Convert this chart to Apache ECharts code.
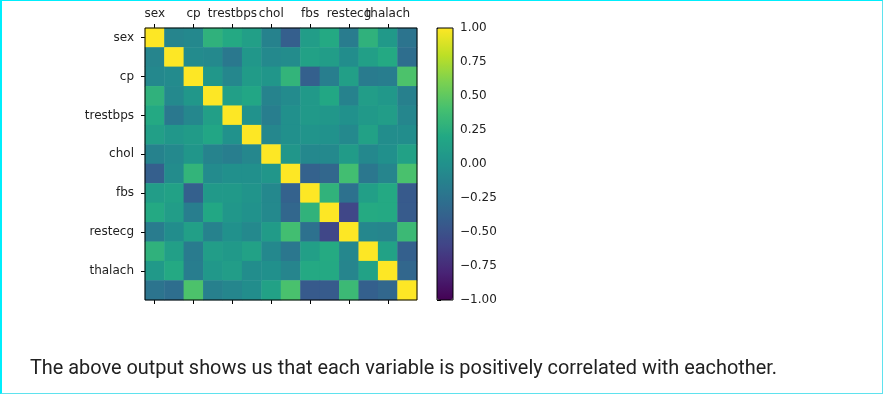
<!DOCTYPE html>
<html>
<head>
<meta charset="utf-8">
<script src="https://cdn.jsdelivr.net/npm/echarts@6/dist/echarts.min.js"></script>
<style>
  html, body { margin: 0; padding: 0; background: #fff; }
  #wrap { position: relative; width: 883px; height: 394px; box-sizing: border-box;
          border-left: 2px solid #00eefc; border-top: 1px solid #00eefc;
          border-right: 1px solid #5fe2ee; border-bottom: 1px solid #5fe2ee; overflow: hidden; }
  #chart { position: absolute; left: -2px; top: -1px; width: 883px; height: 394px; }
  #note { position: absolute; left: 28px; top: 355px; font-family: Roboto, sans-serif;
          font-size: 19.9px; color: #212121; white-space: nowrap; }
</style>
</head>
<body>
<div id="wrap">
  <div id="chart"></div>
  <div id="note">The above output shows us that each variable is positively correlated with eachother.</div>
</div>
<script>
// Variables (matrix order)
const categories = ['age','sex','cp','trestbps','chol','fbs','restecg','thalach','exang','oldpeak','slope','ca','thal','target'];
// Tick labels as shown in the figure (every other tick)
const tickLabels = ['sex','cp','trestbps','chol','fbs','restecg','thalach'];
// Colorbar ticks
const colorbarTicks = [-1.00,-0.75,-0.50,-0.25,0.00,0.25,0.50,0.75,1.00];

// Correlation matrix rows
const rowAge      = [ 1.00,-0.10,-0.07, 0.28, 0.21, 0.12,-0.12,-0.40, 0.10, 0.21,-0.17, 0.28, 0.07,-0.23];
const rowSex      = [-0.10, 1.00,-0.05,-0.06,-0.20, 0.05,-0.06,-0.04, 0.14, 0.10,-0.03, 0.12, 0.21,-0.28];
const rowCp       = [-0.07,-0.05, 1.00, 0.05,-0.08, 0.09, 0.04, 0.30,-0.39,-0.15, 0.12,-0.18,-0.16, 0.43];
const rowTrestbps = [ 0.28,-0.06, 0.05, 1.00, 0.12, 0.18,-0.11,-0.05, 0.07, 0.19,-0.12, 0.10, 0.06,-0.14];
const rowChol     = [ 0.21,-0.20,-0.08, 0.12, 1.00, 0.01,-0.15,-0.01, 0.07, 0.05,-0.00, 0.07, 0.10,-0.09];
const rowFbs      = [ 0.12, 0.05, 0.09, 0.18, 0.01, 1.00,-0.08,-0.01, 0.03, 0.01,-0.06, 0.14,-0.03,-0.03];
const rowRestecg  = [-0.12,-0.06, 0.04,-0.11,-0.15,-0.08, 1.00, 0.04,-0.07,-0.06, 0.09,-0.07,-0.01, 0.14];
const rowThalach  = [-0.40,-0.04, 0.30,-0.05,-0.01,-0.01, 0.04, 1.00,-0.38,-0.34, 0.39,-0.21,-0.10, 0.42];
const rowExang    = [ 0.10, 0.14,-0.39, 0.07, 0.07, 0.03,-0.07,-0.38, 1.00, 0.29,-0.26, 0.12, 0.21,-0.44];
const rowOldpeak  = [ 0.21, 0.10,-0.15, 0.19, 0.05, 0.01,-0.06,-0.34, 0.29, 1.00,-0.58, 0.22, 0.21,-0.43];
const rowSlope    = [-0.17,-0.03, 0.12,-0.12,-0.00,-0.06, 0.09, 0.39,-0.26,-0.58, 1.00,-0.08,-0.10, 0.35];
const rowCa       = [ 0.28, 0.12,-0.18, 0.10, 0.07, 0.14,-0.07,-0.21, 0.12, 0.22,-0.08, 1.00, 0.15,-0.39];
const rowThal     = [ 0.07, 0.21,-0.16, 0.06, 0.10,-0.03,-0.01,-0.10, 0.21, 0.21,-0.10, 0.15, 1.00,-0.34];
const rowTarget   = [-0.23,-0.28, 0.43,-0.14,-0.09,-0.03, 0.14, 0.42,-0.44,-0.43, 0.35,-0.39,-0.34, 1.00];
const matrix = [rowAge,rowSex,rowCp,rowTrestbps,rowChol,rowFbs,rowRestecg,rowThalach,rowExang,rowOldpeak,rowSlope,rowCa,rowThal,rowTarget];

const viridis = ['#440154','#482475','#414487','#355f8d','#2a788e','#21918c','#22a884','#44bf70','#7ad151','#bddf26','#fde725'];

const data = [];
matrix.forEach((row, r) => row.forEach((v, c) => data.push([c, r, v])));

const FONT = 'DejaVu Sans';
const LBL = { fontFamily: FONT, fontSize: 12, color: '#222' };
const lastTick = (tickLabels.length - 1) * 2;
const fmtTick = (v, i) => (i % 2 === 0 ? tickLabels[i / 2] : '');
const fmtCb = v => (v < 0 ? '\u2212' + Math.abs(v).toFixed(2) : v.toFixed(2));
const HM = { left: 145, top: 28, width: 272, height: 272 };

const chart = echarts.init(document.getElementById('chart'));
chart.setOption({
  animation: false,
  grid: [
    Object.assign({ show: true, borderColor: '#000', borderWidth: 1, backgroundColor: 'transparent', z: 5 }, HM),
    { left: 437, top: 28, width: 16, height: 272, show: true, borderColor: '#000', borderWidth: 1, backgroundColor: 'transparent', z: 5 },
    Object.assign({ show: false }, HM)
  ],
  xAxis: [
    { type: 'category', data: categories, gridIndex: 0, position: 'top',
      axisLine: { show: false }, splitLine: { show: false },
      axisTick: { show: true, interval: 1, alignWithLabel: true, length: 4, lineStyle: { color: '#000' } },
      axisLabel: Object.assign({ interval: (i) => i % 2 === 0 && i < lastTick, margin: 8, hideOverlap: false, formatter: fmtTick }, LBL) },
    { type: 'category', data: categories, gridIndex: 0, position: 'bottom',
      axisLine: { show: false }, splitLine: { show: false },
      axisTick: { show: true, interval: 1, alignWithLabel: true, length: 4, lineStyle: { color: '#000' } },
      axisLabel: { show: false } },
    { type: 'value', gridIndex: 1, min: 0, max: 1, show: false },
    { type: 'category', data: categories, gridIndex: 2, position: 'top',
      axisLine: { show: false }, splitLine: { show: false }, axisTick: { show: false },
      axisLabel: Object.assign({ interval: (i) => i === lastTick, margin: 8, hideOverlap: false, formatter: fmtTick }, LBL) }
  ],
  yAxis: [
    { type: 'category', data: categories, gridIndex: 0, inverse: true,
      axisLine: { show: false }, splitLine: { show: false },
      axisTick: { show: true, interval: 1, alignWithLabel: true, length: 4, lineStyle: { color: '#000' } },
      axisLabel: Object.assign({ interval: 1, margin: 11, hideOverlap: false, formatter: fmtTick }, LBL) },
    { type: 'value', gridIndex: 1, position: 'right', min: -1, max: 1, interval: 0.25,
      axisLine: { show: false }, splitLine: { show: false },
      axisTick: { show: true, length: 4, lineStyle: { color: '#000' } },
      axisLabel: Object.assign({ margin: 7, formatter: fmtCb }, LBL) },
    { type: 'category', data: categories, gridIndex: 2, inverse: true, show: false }
  ],
  visualMap: {
    type: 'continuous', min: -1, max: 1, seriesIndex: 0,
    left: 437, top: 28, itemWidth: 16, itemHeight: 272, padding: 0,
    calculable: false, realtime: false, text: null, showLabel: false,
    hoverLink: false,
    inRange: { color: viridis }
  },
  series: [{
    type: 'heatmap', xAxisIndex: 0, yAxisIndex: 0, data: data,
    itemStyle: { borderWidth: 0 },
    emphasis: { disabled: true }, label: { show: false }
  }]
});
</script>
</body>
</html>
